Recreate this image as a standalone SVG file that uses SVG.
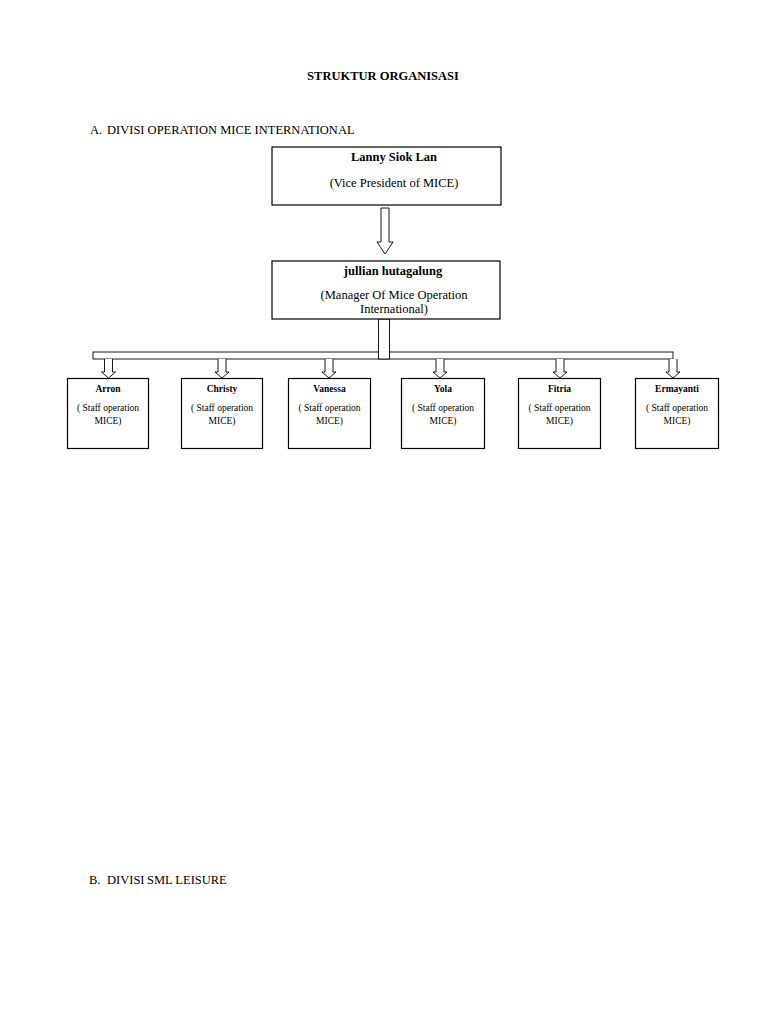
<svg xmlns="http://www.w3.org/2000/svg" width="768" height="1024" viewBox="0 0 768 1024">
<style>
.box{fill:#fff;stroke:#000;stroke-width:1.2}
.conn{fill:#fff;stroke:#000;stroke-width:0.9}
text{font-family:"Liberation Serif","Times New Roman",serif;fill:#000}
.b{font-weight:bold}
.c{text-anchor:middle}
.t{font-size:12.5px}
.s{font-size:9.5px}
.h{font-size:12.5px}
</style>
<defs>
<path id="sa" d="M-4,0 V13 H-7 L0,19 L7,13 H4 V0"/>
</defs>
<rect width="768" height="1024" fill="#fff"/>
<text x="383" y="80" class="b c" font-size="12.5">STRUKTUR ORGANISASI</text>
<text y="134" class="h"><tspan x="90">A.</tspan><tspan x="107">DIVISI OPERATION MICE INTERNATIONAL</tspan></text>
<text y="884" class="h"><tspan x="89">B.</tspan><tspan x="107">DIVISI</tspan><tspan x="147">SML LEISURE</tspan></text>

<g id="connectors">
<path class="conn" d="M381,208 H389 V242 H393 L385,254 L377,242 H381 Z"/>
<rect class="conn" x="93" y="352" width="580" height="7"/>
<rect class="conn" x="378.5" y="319" width="11" height="40"/>
<g class="conn">
<use href="#sa" x="108.5" y="359"/>
<use href="#sa" x="222" y="359"/>
<use href="#sa" x="329" y="359"/>
<use href="#sa" x="440" y="359"/>
<use href="#sa" x="560" y="359"/>
<use href="#sa" x="673" y="359"/>
</g>
</g>

<g id="n-lanny">
<rect class="box" x="272" y="147" width="229" height="58"/>
<text x="394" y="161" class="b c t">Lanny Siok Lan</text>
<text x="394" y="187" class="c t">(Vice President of MICE)</text>
</g>
<g id="n-jullian">
<rect class="box" x="272" y="261" width="228" height="58"/>
<text x="393" y="275" class="b c t">jullian hutagalung</text>
<text x="394" y="298.5" class="c t">(Manager Of Mice Operation</text>
<text x="394" y="313" class="c t">International)</text>
</g>
<g id="n-arron">
<rect class="box" x="67.5" y="378.5" width="81" height="70"/>
<text x="108" y="391.5" class="b c s">Arron</text>
<text x="108" y="411" class="c s">( Staff operation</text>
<text x="108" y="423.5" class="c s">MICE)</text>
</g>
<g id="n-christy">
<rect class="box" x="181.5" y="378.5" width="81" height="70"/>
<text x="222" y="391.5" class="b c s">Christy</text>
<text x="222" y="411" class="c s">( Staff operation</text>
<text x="222" y="423.5" class="c s">MICE)</text>
</g>
<g id="n-vanessa">
<rect class="box" x="288.5" y="378.5" width="82" height="70"/>
<text x="329.5" y="391.5" class="b c s">Vanessa</text>
<text x="329.5" y="411" class="c s">( Staff operation</text>
<text x="329.5" y="423.5" class="c s">MICE)</text>
</g>
<g id="n-yola">
<rect class="box" x="401.5" y="378.5" width="83" height="70"/>
<text x="443" y="391.5" class="b c s">Yola</text>
<text x="443" y="411" class="c s">( Staff operation</text>
<text x="443" y="423.5" class="c s">MICE)</text>
</g>
<g id="n-fitria">
<rect class="box" x="518.5" y="378.5" width="82" height="70"/>
<text x="559.5" y="391.5" class="b c s">Fitria</text>
<text x="559.5" y="411" class="c s">( Staff operation</text>
<text x="559.5" y="423.5" class="c s">MICE)</text>
</g>
<g id="n-ermayanti">
<rect class="box" x="635.5" y="378.5" width="83" height="70"/>
<text x="677" y="391.5" class="b c s">Ermayanti</text>
<text x="677" y="411" class="c s">( Staff operation</text>
<text x="677" y="423.5" class="c s">MICE)</text>
</g>
</svg>
